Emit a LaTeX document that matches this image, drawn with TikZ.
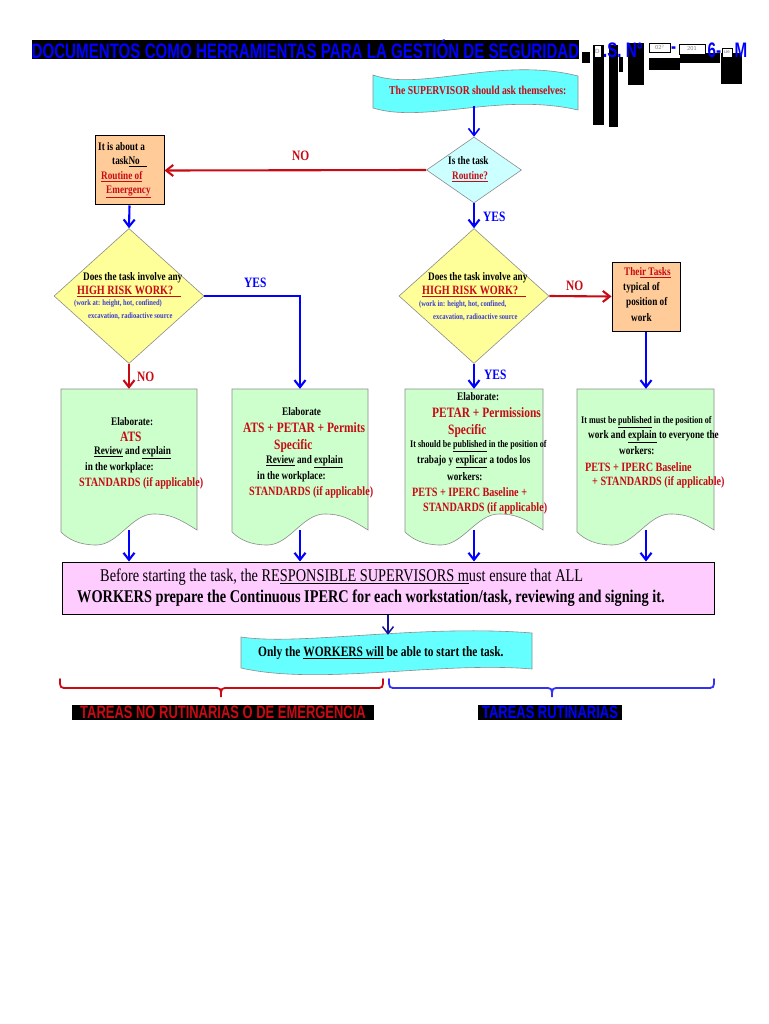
\documentclass[tikz,border=0pt]{standalone}
\usepackage{fontspec}
\setmainfont{Liberation Serif}
\newfontfamily\tnr[FakeStretch=0.8]{Liberation Serif}
\newfontfamily\arn[FakeStretch=0.72]{Liberation Sans}
\usetikzlibrary{arrows.meta,shapes.geometric}
\definecolor{dred}{RGB}{200,10,20}
\definecolor{bblue}{RGB}{0,0,255}
\definecolor{navy}{RGB}{20,20,160}
\definecolor{cyanb}{RGB}{102,255,255}
\definecolor{cyand}{RGB}{204,255,255}
\definecolor{yel}{RGB}{255,255,153}
\definecolor{ora}{RGB}{255,204,153}
\definecolor{grn}{RGB}{204,255,204}
\definecolor{pnk}{RGB}{255,204,255}
\definecolor{sblue}{RGB}{60,60,210}
\definecolor{edge}{RGB}{140,140,140}
\definecolor{bracebl}{RGB}{50,50,240}
\tikzset{
  bt/.style={inner sep=0pt, anchor=west, text=black, font=\tnr\bfseries\fontsize{11.5}{13}\selectfont},
  rt/.style={bt, text=dred, font=\tnr\bfseries\fontsize{12.7}{14}\selectfont},
  bigr/.style={bt, text=dred, font=\tnr\bfseries\fontsize{14.3}{16}\selectfont},
  smt/.style={bt, font=\tnr\bfseries\fontsize{10.1}{12}\selectfont},
  tinyb/.style={bt, text=sblue, font=\tnr\bfseries\fontsize{8.2}{9}\selectfont},
  yeslab/.style={bt, text=bblue, font=\tnr\bfseries\fontsize{14.3}{16}\selectfont},
  nolab/.style={bt, text=dred, font=\tnr\bfseries\fontsize{14.3}{16}\selectfont},
  dia/.style={shape=diamond, draw=edge, line width=0.6pt, inner sep=0pt},
  obox/.style={draw=black, fill=ora, line width=1pt, inner sep=0pt},
  ghost/.style={inner sep=0pt, draw=none},
  barrow/.style={draw=bblue, line width=2.1pt, -{Straight Barb[length=7pt,width=11pt]}},
  rarrow/.style={barrow, draw=dred},
  docst/.style={draw=edge, fill=grn, line width=0.6pt},
  blk/.style={fill=black, draw=none},
  wbox/.style={fill=white, draw=black, line width=0.4pt, inner sep=0pt, text=gray, font=\sffamily\fontsize{6}{7}\selectfont},
  ttl/.style={inner sep=0pt, text=bblue, font=\arn\bfseries\fontsize{21}{22}\selectfont},
}
\newcommand{\docshape}[2]{%
 \filldraw[docst] (#1,389) -- (#2,389) -- (#2,530)
  .. controls ({#1+0.86*(#2-#1)},518) and ({#1+0.8*(#2-#1)},514) .. ({#1+0.68*(#2-#1)},514)
  .. controls ({#1+0.52*(#2-#1)},514) and ({#1+0.42*(#2-#1)},545) .. ({#1+0.26*(#2-#1)},545)
  .. controls ({#1+0.14*(#2-#1)},545) and ({#1+0.06*(#2-#1)},540) .. (#1,532) -- cycle;}
\begin{document}
\begin{tikzpicture}[x=1pt,y=-1pt]
\useasboundingbox (0,0) rectangle (768,1024);
\fill[white] (0,0) rectangle (768,1024);

% ---------- title ----------
\node[ttl, fill=black, minimum width=545pt, minimum height=19pt] (title) at (305.5,49.5) {DOCUMENTOS COMO HERRAMIENTAS PARA LA GESTIÓN DE SEGURIDAD};
\fill[blk] (582,52) rectangle (590,63);
\fill[blk] (593,45) rectangle (604,125);
\fill[blk] (609,45) rectangle (618,127);
\fill[blk] (619,57) rectangle (623,72);
\fill[blk] (628,43) rectangle (644,85);
\fill[blk] (649,58) rectangle (680,70);
\fill[blk] (680,53) rectangle (720,63);
\fill[blk] (721,53) rectangle (742,84);
\node[ttl, anchor=west] (ds) at (603,50) {.S. N°};
\node[ttl, anchor=west] (dash1) at (671,50) {-};
\node[ttl, anchor=west] (six) at (707.5,50) {6-};
\node[ttl, anchor=west] (em) at (734.5,50) {M};
\node[wbox, minimum width=7pt, minimum height=12pt] (wd) at (597.5,51) {D};
\node[wbox, minimum width=21pt, minimum height=9pt] (w02) at (659.5,47.5) {02²};
\node[wbox, minimum width=26pt, minimum height=10pt] (w201) at (692,49) {201};
\node[wbox, minimum width=10pt, minimum height=9pt] (wue) at (727,52.5) {ue};

% ---------- supervisor banner ----------
\filldraw[fill=cyanb, draw=edge, line width=0.6pt] (373,75) .. controls (420,92) and (500,56) .. (578,76)
  -- (578,110) .. controls (500,92) and (425,124) .. (373,108) -- cycle;
\node[ghost, minimum width=202pt, minimum height=30pt] (sup) at (474,91) {};
\node[bt, text=dred, font=\tnr\bfseries\fontsize{12.1}{14}\selectfont] (suptxt) at (389,90) {The SUPERVISOR should ask themselves:};

% ---------- diamonds ----------
\node[dia, fill=cyand, minimum width=95pt, minimum height=66pt] (dia1) at (474,170) {};
\node[bt] (d1a) at (448,161) {Is the task};
\node[bt, text=dred] (d1b) at (452,177) {\underline{Routine?}};

\node[dia, fill=yel, minimum width=150pt, minimum height=135pt] (dia2) at (129,296) {};
\node[bt] (d2a) at (83,278) {Does the task involve any};
\node[rt] (d2b) at (77,291) {\underline{HIGH RISK WORK?\hspace{8pt}}};
\node[tinyb] (d2c) at (74,304) {(work at: height, hot, confined)};
\node[tinyb] (d2d) at (88,316) {excavation, radioactive source};

\node[dia, fill=yel, minimum width=150pt, minimum height=135pt] (dia3) at (474,296) {};
\node[bt] (d3a) at (428,278) {Does the task involve any};
\node[rt] (d3b) at (422,291) {\underline{HIGH RISK WORK?\hspace{8pt}}};
\node[tinyb] (d3c) at (419,305) {(work in: height, hot, confined,};
\node[tinyb] (d3d) at (433,317) {excavation, radioactive source};

% ---------- orange boxes ----------
\node[obox, minimum width=69pt, minimum height=69pt] (o1) at (129.5,170.5) {};
\node[bt] (o1a) at (98,147) {It is about a};
\node[bt] (o1b) at (112,162) {task\underline{No\hspace{7pt}}};
\node[bt, text=dred] (o1c) at (101,177) {\underline{Routine of}};
\node[bt, text=dred] (o1d) at (106,192) {\underline{Emergency}};

\node[obox, minimum width=68pt, minimum height=69pt] (o2) at (646,296.5) {};
\node[bt, text=dred] (o2a) at (624,273) {The\underline{ir Tasks}};
\node[bt] (o2b) at (623,288) {typical of};
\node[bt] (o2c) at (626,303) {position of};
\node[bt] (o2d) at (631,318) {work};

% ---------- documents ----------
\docshape{61}{197}
\docshape{232}{368}
\docshape{405}{543}
\docshape{577}{714}
\node[ghost, minimum width=136pt, minimum height=141pt] (doc1) at (129,459.5) {};
\node[ghost, minimum width=136pt, minimum height=141pt] (doc2) at (300,459.5) {};
\node[ghost, minimum width=138pt, minimum height=141pt] (doc3) at (474,459.5) {};
\node[ghost, minimum width=137pt, minimum height=141pt] (doc4) at (646,459.5) {};

\node[bt] (t1a) at (111,422) {Elaborate:};
\node[bigr] (t1b) at (120,437) {ATS};
\node[bt] (t1c) at (94,453) {\underline{Review} and \underline{explain}};
\node[bt] (t1d) at (85,468) {in the workplace:};
\node[rt] (t1e) at (79,483) {STANDARDS (if applicable)};

\node[bt] (t2a) at (282,412) {Elaborate};
\node[bigr] (t2b) at (243,428) {ATS + PETAR + Permits};
\node[bigr] (t2c) at (274,446) {Specific};
\node[bt] (t2d) at (266,462) {\underline{Review} and \underline{explain}};
\node[bt] (t2e) at (257,477) {in the workplace:};
\node[rt] (t2f) at (249,492) {STANDARDS (if applicable)};

\node[bt] (t3a) at (457,397) {Elaborate:};
\node[bigr] (t3b) at (432,413) {PETAR + Permissions};
\node[bigr] (t3c) at (448,431) {Specific};
\node[smt] (t3d) at (410,446) {It should be \underline{published} in the position of};
\node[bt] (t3e) at (417,462) {trabajo y \underline{explicar} a todos los};
\node[bt] (t3f) at (447,477) {workers:};
\node[rt] (t3g) at (412,492) {PETS + IPERC Baseline +};
\node[rt] (t3h) at (423,508) {STANDARDS (if applicable)};

\node[smt] (t4a) at (581,422) {It must be \underline{published} in the position of};
\node[bt] (t4b) at (588,437) {work and \underline{explain} to everyone the};
\node[bt] (t4c) at (619,451) {workers:};
\node[rt] (t4d) at (585,467) {PETS + IPERC Baseline};
\node[rt] (t4e) at (592,482) {+ STANDARDS (if applicable)};

% ---------- pink box ----------
\node[draw=black, fill=pnk, line width=1pt, minimum width=652pt, minimum height=52pt, inner sep=0pt] (pink) at (388,588) {};
\node[inner sep=0pt, anchor=west, font=\tnr\fontsize{17.9}{19}\selectfont] (p1) at (100,577) {Before starting the task, the RE\underline{SPONSIBLE SUPERVISORS m}ust ensure that ALL};
\node[inner sep=0pt, anchor=west, font=\tnr\bfseries\fontsize{17.9}{19}\selectfont] (p2) at (77,598) {WORKERS prepare the Continuous IPERC for each workstation/task, reviewing and signing it.};

% ---------- final banner ----------
\filldraw[fill=cyanb, draw=edge, line width=0.6pt] (241,637) .. controls (300,646) and (420,624) .. (532,633)
  -- (532,669) .. controls (440,661) and (320,686) .. (241,668) -- cycle;
\node[ghost, minimum width=292pt, minimum height=33pt] (only) at (388,651.5) {};
\node[bt, font=\tnr\bfseries\fontsize{14.3}{16}\selectfont] (onlytxt) at (258,653) {Only the \underline{WORKERS will} be able to start the task.};

% ---------- connectors ----------
\draw[barrow, line width=1.6pt] (sup.south -| dia1.north) -- (dia1.north);
\draw[rarrow] (dia1.west) -- (o1.east);
\node[nolab] (no1) at (292,156) {NO};
\draw[barrow] (o1.south) -- (dia2.north);
\draw[barrow] (dia1.south) -- (dia3.north);
\node[yeslab] (yes1) at (483,217) {YES};
\draw[barrow] (dia2.east) -| (doc2.north);
\node[yeslab] (yes2) at (244,283) {YES};
\draw[rarrow] (dia2.south) -- (doc1.north);
\node[nolab] (no2) at (137,377) {NO};
\draw[rarrow] (dia3.east) -- (o2.west);
\node[nolab] (no3) at (566,286) {NO};
\draw[barrow] (dia3.south) -- (doc3.north);
\node[yeslab] (yes3) at (484,375) {YES};
\draw[barrow] (o2.south) -- (doc4.north);
\draw[barrow] (doc1.south) -- (doc1.south |- pink.north);
\draw[barrow] (doc2.south) -- (doc2.south |- pink.north);
\draw[barrow] (doc3.south) -- (doc3.south |- pink.north);
\draw[barrow] (doc4.south) -- (doc4.south |- pink.north);
\draw[barrow, draw=navy, line width=1.5pt] (pink.south -| only.north) -- (only.north);

% ---------- braces ----------
\draw[dred, line width=1.8pt, line cap=round] (60,679) .. controls (60,688) .. (68,688) -- (213,688)
  .. controls (221,688) .. (221,697) .. controls (221,688) .. (229,688) -- (375,688) .. controls (383,688) .. (383,679);
\draw[bracebl, line width=1.8pt, line cap=round] (389,679) .. controls (389,688) .. (397,688) -- (544,688)
  .. controls (552,688) .. (552,697) .. controls (552,688) .. (560,688) -- (706,688) .. controls (714,688) .. (714,679);
\node[inner sep=0pt, fill=black, text=dred, minimum width=302pt, minimum height=15pt, font=\arn\bfseries\fontsize{18}{18}\selectfont] (lab1) at (223,712.5) {TAREAS NO RUTINARIAS O DE EMERGENCIA};
\node[inner sep=0pt, fill=black, text=bblue, minimum width=144pt, minimum height=15pt, font=\arn\bfseries\fontsize{18}{18}\selectfont] (lab2) at (550,712.5) {TAREAS RUTINARIAS};
\end{tikzpicture}
\end{document}
